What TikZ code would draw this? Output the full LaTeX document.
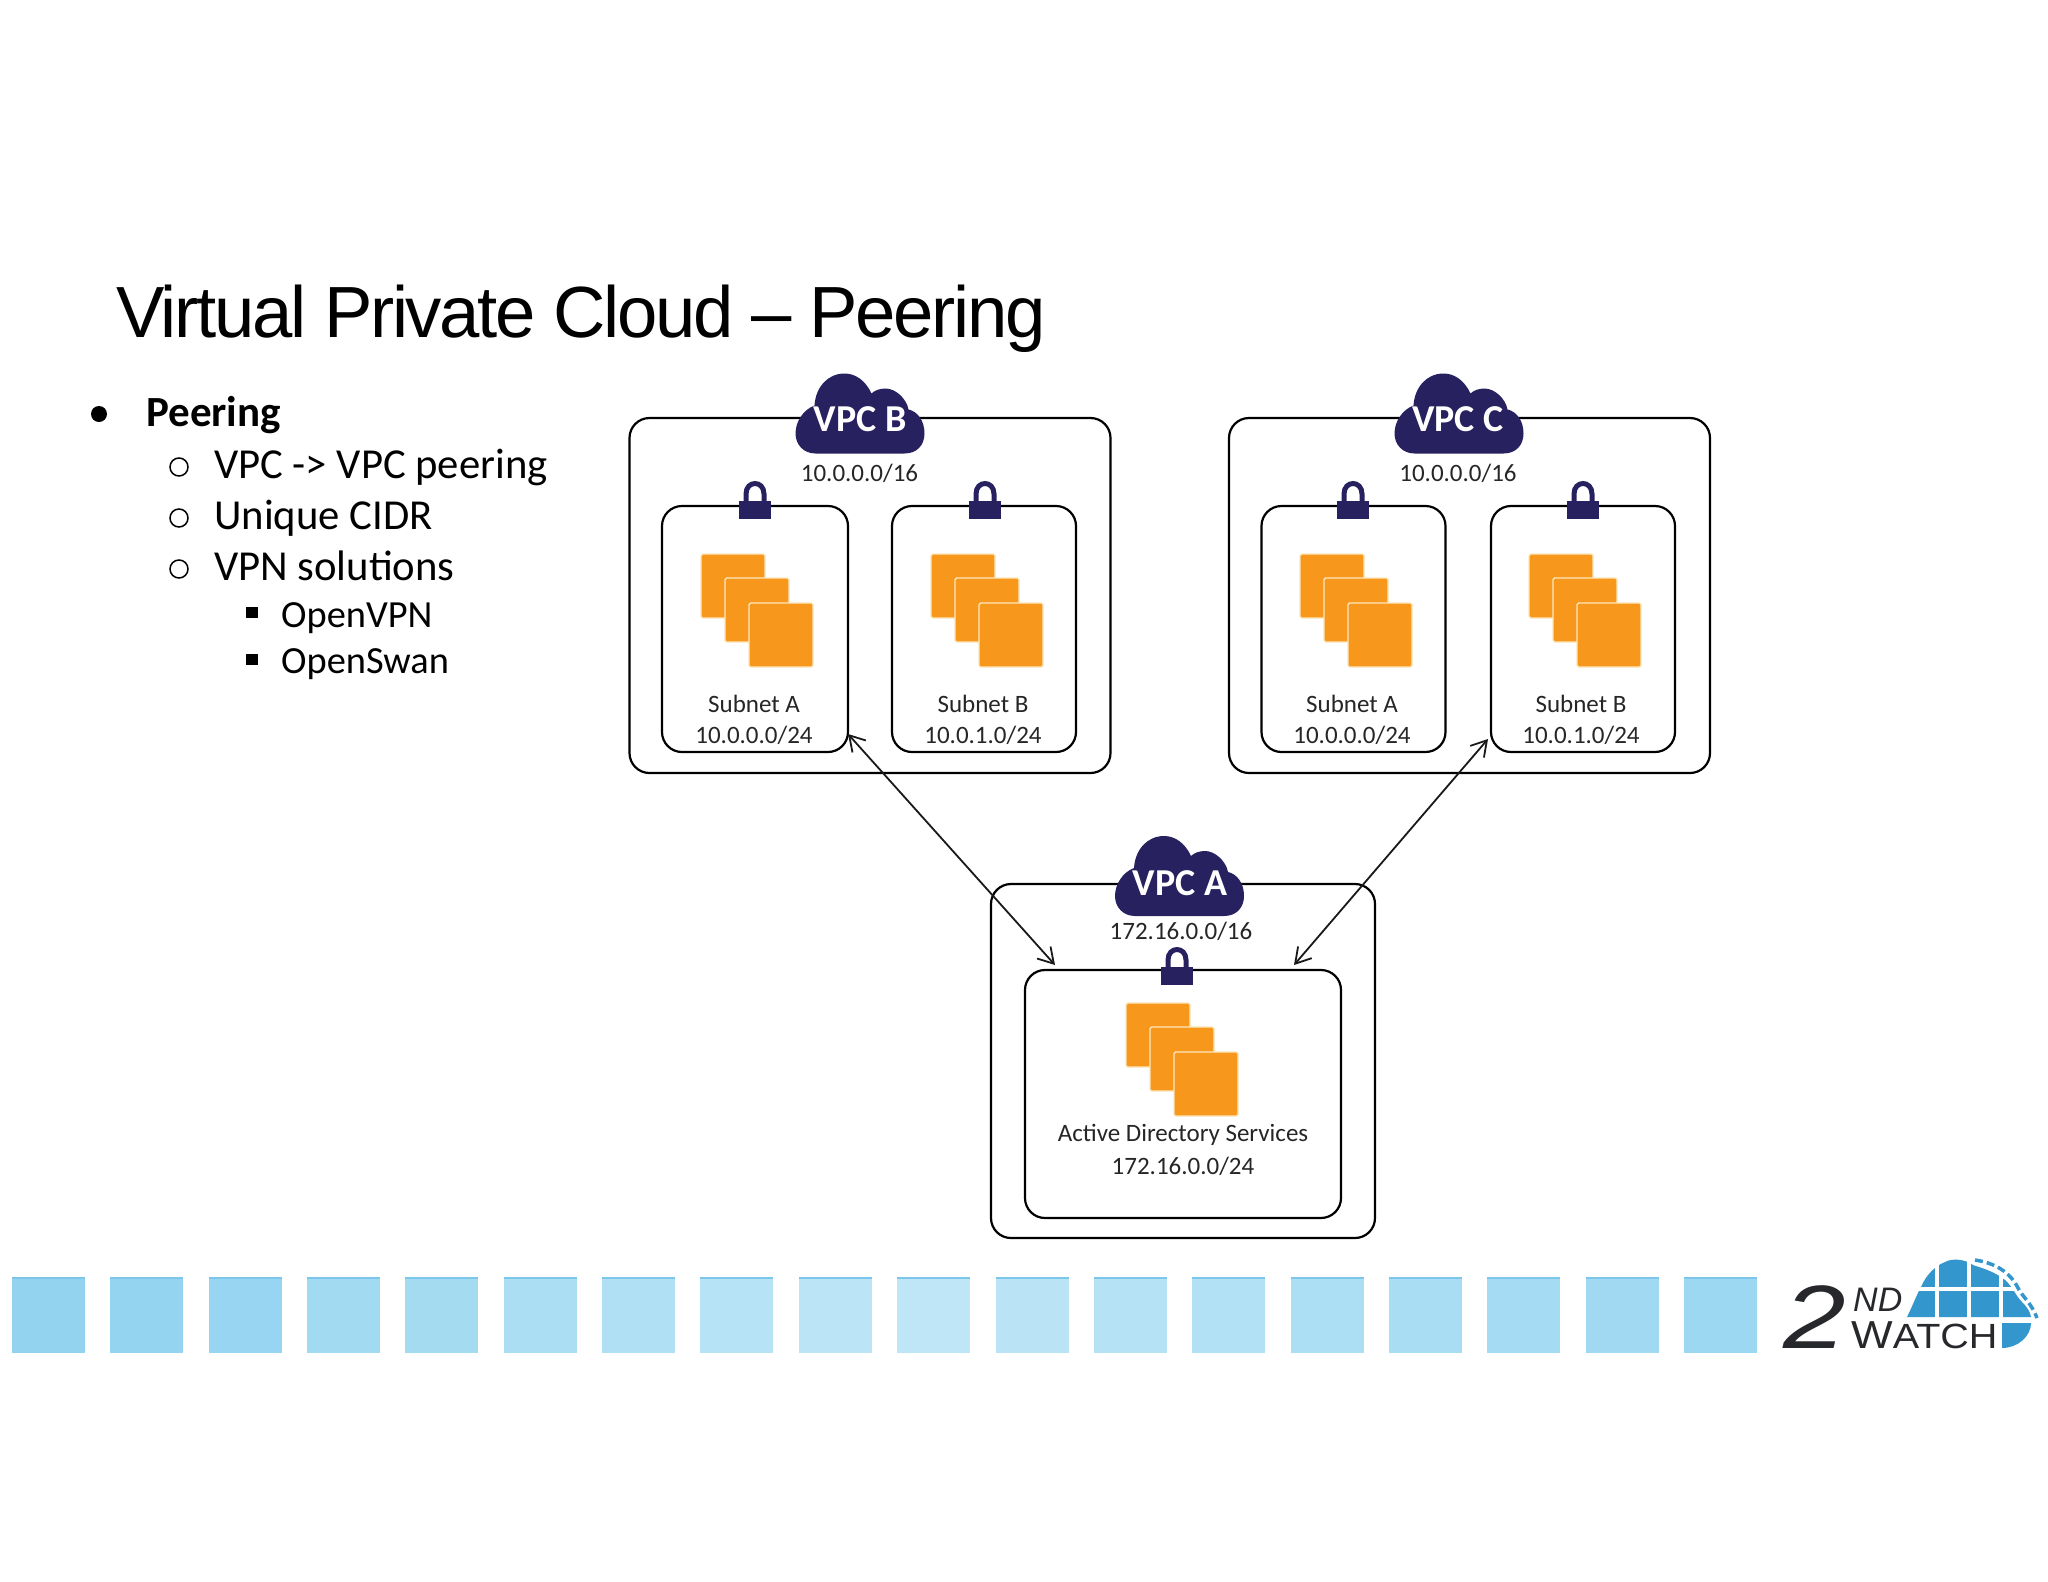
\documentclass[tikz,border=0pt]{standalone}
\usepackage{fontspec}
\usetikzlibrary{arrows.meta}
\setmainfont{Carlito}
\newfontfamily\titlefont[LetterSpace=-3.2]{Liberation Sans}
\newfontfamily\logofont{Liberation Sans}
\definecolor{vpcblue}{HTML}{27225F}
\definecolor{ec2orange}{HTML}{F7981D}
\definecolor{ec2edge}{HTML}{FDE7BC}
\definecolor{logoblue}{HTML}{3396CC}
\definecolor{logoink}{HTML}{26282B}
\definecolor{striptop}{HTML}{7CC6EC}
\newcommand{\fs}[1]{\fontsize{#1}{#1}\selectfont}
\tikzset{
  vpcbox/.style={draw=black, line width=2.2pt, rounded corners=20pt, fill=white, inner sep=0pt, outer sep=0pt},
  subnetbox/.style={draw=black, line width=2.2pt, rounded corners=20pt, fill=white, inner sep=0pt, outer sep=0pt},
  small/.style={font=\fs{25}, text=black!85, inner sep=0pt},
  vpclabel/.style={font=\fs{38}\bfseries, text=white, inner sep=0pt},
  item1/.style={font=\fs{43}\bfseries, anchor=base west, inner sep=0pt},
  item2/.style={font=\fs{42.7}, anchor=base west, inner sep=0pt},
  item3/.style={font=\fs{38.4}, anchor=base west, inner sep=0pt},
  peer/.style={line width=1.8pt, black!90, {Straight Barb[length=15pt,width=18pt,line width=1.8pt]}-{Straight Barb[length=15pt,width=18pt,line width=1.8pt]}},
  strip/.style={inner sep=0pt, outer sep=0pt, minimum width=73pt, minimum height=75pt},
  ec2/.style={fill=ec2orange, draw=ec2edge, line width=1.4pt, rounded corners=1.5pt},
  pics/vpccloud/.style={code={
    \fill[vpcblue] (20,80) -- (109,80) .. controls (122,80) and (129,71) .. (129,60)
      .. controls (129,47) and (122,38) .. (113,36)
      .. controls (111,25) and (100,15) .. (90,15)
      .. controls (84,15) and (79,17) .. (76,20)
      .. controls (70,7) and (60,0) .. (49,0)
      .. controls (32,0) and (20,14) .. (19,32)
      .. controls (8,36) and (0,48) .. (0,60)
      .. controls (0,71) and (8,80) .. (20,80) -- cycle;
  }},
  pics/lock/.style={code={
    \draw[vpcblue, line width=5pt] (-9,-4) -- (-9,-11) .. controls (-9,-25) and (9,-25) .. (9,-11) -- (9,-4);
    \fill[vpcblue] (-16,-4) rectangle (16,14);
  }},
  pics/ec2stack/.style={code={
    \path[ec2] (0,0) rectangle (64,64);
    \path[ec2] (24,24) rectangle (88,88);
    \path[ec2] (48,49) rectangle (112,113);
  }},
}
\begin{document}
\begin{tikzpicture}[x=1pt, y=-1pt]
\useasboundingbox (0,0) rectangle (2048,1582);
\fill[white] (0,0) rectangle (2048,1582);

% title and bullets
\node[font=\titlefont\fs{72.5}, anchor=base west, inner sep=0pt] (title) at (116,337) {Virtual Private Cloud – Peering};

\fill (99,414) circle (8);
\node[item1] (t1) at (146,426) {Peering};
\draw[line width=1.5pt] (179,467) circle (9);
\node[item2] (t2) at (214,478) {VPC -> VPC peering};
\draw[line width=1.5pt] (179,518) circle (9);
\node[item2] (t3) at (214,529) {Unique CIDR};
\draw[line width=1.5pt] (179,569) circle (9);
\node[item2] (t4) at (214,580) {VPN solutions};
\fill (246,607) rectangle (258,618);
\node[item3] (t5) at (281,627) {OpenVPN};
\fill (246,654) rectangle (258,665);
\node[item3] (t6) at (281,673) {OpenSwan};

% VPC B
\node[vpcbox, minimum width=481pt, minimum height=355pt] (vpcb) at (870,595.5) {};
\node[subnetbox, minimum width=186pt, minimum height=246pt] (bsa) at (755,629) {};
\node[subnetbox, minimum width=184pt, minimum height=246pt] (bsb) at (984,629) {};
\pic at (795.5,373.5) {vpccloud};
\node[vpclabel] (bname) at (860,419.5) {VPC B};
\node[small] (bcidr) at (859.5,473) {10.0.0.0/16};
\pic at (755,505) {lock};
\pic at (985,505) {lock};
\pic at (701,554) {ec2stack};
\pic at (931,554) {ec2stack};
\node[small] (bsan) at (754,704) {Subnet A};
\node[small] (bsac) at (754,735) {10.0.0.0/24};
\node[small] (bsbn) at (983,704) {Subnet B};
\node[small] (bsbc) at (983,735) {10.0.1.0/24};

% VPC C
\node[vpcbox, minimum width=481pt, minimum height=355pt] (vpcc) at (1469.5,595.5) {};
\node[subnetbox, minimum width=184pt, minimum height=246pt] (csa) at (1353.5,629) {};
\node[subnetbox, minimum width=184pt, minimum height=246pt] (csb) at (1583,629) {};
\pic at (1394.5,373.5) {vpccloud};
\node[vpclabel] (cname) at (1458,419.5) {VPC C};
\node[small] (ccidr) at (1458,473) {10.0.0.0/16};
\pic at (1353,505) {lock};
\pic at (1583,505) {lock};
\pic at (1300,554) {ec2stack};
\pic at (1529,554) {ec2stack};
\node[small] (csan) at (1352,704) {Subnet A};
\node[small] (csac) at (1352,735) {10.0.0.0/24};
\node[small] (csbn) at (1581,704) {Subnet B};
\node[small] (csbc) at (1581,735) {10.0.1.0/24};

% VPC A
\node[vpcbox, minimum width=384pt, minimum height=354pt] (vpca) at (1183,1061) {};
\node[subnetbox, minimum width=316pt, minimum height=248pt] (asub) at (1183,1094) {};
\pic at (1115,836) {vpccloud};
\node[vpclabel] (aname) at (1180,883.5) {VPC A};
\node[small] (acidr) at (1181,931) {172.16.0.0/16};
\pic at (1177,971) {lock};
\pic at (1126,1003) {ec2stack};
\node[small] (asn) at (1183,1134.5) {Active Directory Services};
\node[small] (asc) at (1183,1166) {172.16.0.0/24};

% peering links
\draw[peer] ([yshift=18pt]bsa.south east) -- ([xshift=30pt,yshift=5pt]asub.north west);
\draw[peer] ([xshift=-3pt,yshift=13pt]csb.south west) -- ([xshift=-47pt,yshift=5pt]asub.north east);

% square strip
\foreach \i/\c in {0/93D3F0,1/95D4F0,2/97D5F2,3/A2DAF1,4/A5DBF1,5/ABDEF3,6/B0E0F4,7/B6E3F5,8/BBE5F6,9/BEE6F6,10/BAE4F6,11/B5E2F5,12/B2E1F5,13/ADDFF4,14/A9DDF3,15/A5DBF3,16/A1D9F2,17/9DD8F2}{
  \definecolor{stripc}{HTML}{\c}
  \node[strip, fill=stripc, anchor=north west] (s\i) at ({12+98.35*\i},1278) {};
  \draw[striptop, line width=1.2pt] (s\i.north west) -- (s\i.north east);
}

% logo
\fill[logoblue] (1907,1317) .. controls (1913,1305) and (1916,1296) .. (1921,1287)
  .. controls (1926,1275) and (1935,1266) .. (1945,1262)
  .. controls (1952,1258) and (1965,1259) .. (1973,1265)
  .. controls (1985,1269) and (1995,1272) .. (2005,1280)
  .. controls (2012,1286) and (2016,1296) .. (2022,1302)
  .. controls (2028,1308) and (2030,1312) .. (2031,1317) -- cycle;
\fill[logoblue] (2002,1323) -- (2031,1323) .. controls (2031,1336) and (2018,1348) .. (2002,1348) -- cycle;
\draw[white, line width=3.5pt] (1937,1255) -- (1937,1318) (1969,1255) -- (1969,1318) (2001,1255) -- (2001,1318) (1905,1289) -- (2025,1289);
\draw[logoblue, line width=3.5pt, dash pattern=on 8pt off 4pt] (1975,1260) .. controls (1995,1263) and (2010,1272) .. (2018,1288) .. controls (2022,1296) and (2032,1304) .. (2037,1318);
\node[font=\logofont\itshape\fs{90}, text=logoink, inner sep=0pt] (logo2) at (1815,1317) {\scalebox{1.25}[1]{2}};
\node[font=\logofont\itshape\fs{34}, text=logoink, anchor=base west, inner sep=0pt] (logond) at (1853,1311) {ND};
\node[font=\logofont\fs{39}, text=logoink, anchor=base west, inner sep=0pt] (logow) at (1851,1348) {\scalebox{1.13}[1]{W\fs{35}ATCH}};
\end{tikzpicture}
\end{document}
